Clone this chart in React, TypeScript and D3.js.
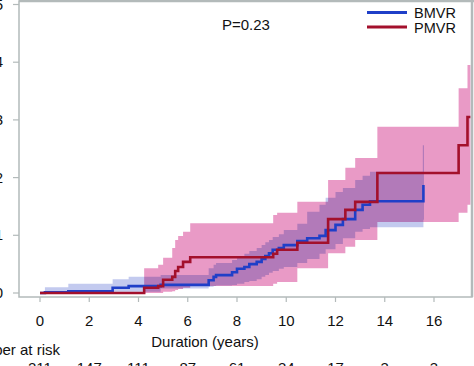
import * as d3 from "d3";

// Kaplan-Meier style cumulative incidence
const bmvrTime = [0, 0.2, 1.15, 2.95, 3.6, 4.9, 6.85, 7.05, 7.15, 7.8, 8.0, 8.3, 8.5, 8.8, 9.0, 9.15, 9.3, 9.45, 9.7, 9.9, 10.45, 10.85, 11.35, 11.6, 12.0, 12.3, 12.8, 13.1, 13.4, 15.57];
const bmvrEst = [0, 0.001, 0.003, 0.009, 0.012, 0.014, 0.022, 0.028, 0.031, 0.036, 0.042, 0.045, 0.05, 0.054, 0.059, 0.064, 0.069, 0.075, 0.078, 0.083, 0.09, 0.095, 0.099, 0.109, 0.118, 0.128, 0.144, 0.153, 0.159, 0.187];
const bmvrLower = [0, 0, 0, 0.002, 0.002, 0.008, 0.011, 0.012, 0.013, 0.014, 0.016, 0.019, 0.021, 0.024, 0.028, 0.031, 0.035, 0.038, 0.042, 0.045, 0.052, 0.059, 0.068, 0.076, 0.085, 0.095, 0.106, 0.111, 0.114, 0.127];
const bmvrUpper = [0, 0.01, 0.016, 0.024, 0.028, 0.031, 0.043, 0.049, 0.052, 0.057, 0.062, 0.068, 0.073, 0.078, 0.083, 0.088, 0.092, 0.097, 0.102, 0.109, 0.12, 0.141, 0.153, 0.165, 0.175, 0.182, 0.196, 0.203, 0.21, 0.256];

const pmvrTime = [0, 4.23, 4.8, 5.0, 5.37, 5.49, 5.61, 5.81, 6.1, 9.47, 9.63, 10.45, 11.7, 12.4, 12.8, 13.7, 17.0, 17.36, 17.48];
const pmvrEst = [0, 0.009, 0.012, 0.023, 0.028, 0.038, 0.045, 0.054, 0.062, 0.068, 0.075, 0.087, 0.128, 0.144, 0.158, 0.208, 0.256, 0.305, 0.305];
const pmvrLower = [0, 0, 0, 0.002, 0.003, 0.005, 0.007, 0.009, 0.012, 0.016, 0.019, 0.043, 0.069, 0.08, 0.092, 0.123, 0.139, 0.153, 0.153];
const pmvrUpper = [0, 0.043, 0.049, 0.061, 0.078, 0.092, 0.099, 0.106, 0.121, 0.135, 0.139, 0.158, 0.196, 0.217, 0.234, 0.288, 0.355, 0.395, 0.395];

const xTicks = [0, 2, 4, 6, 8, 10, 12, 14, 16];
const yTicks = [0, 0.1, 0.2, 0.3, 0.4, 0.5];
const atRisk = [211, 147, 111, 87, 61, 34, 17, 3, 3];
const seriesNames = ["BMVR", "PMVR"];
const pLabel = "P=0.23";

type Row = { t: number; est: number; lo: number; hi: number };

const rows = (t: number[], e: number[], lo: number[], hi: number[]): Row[] =>
  t.map((d, i) => ({ t: d, est: e[i], lo: lo[i], hi: hi[i] }));

const bmvr = rows(bmvrTime, bmvrEst, bmvrLower, bmvrUpper);
const pmvr = rows(pmvrTime, pmvrEst, pmvrLower, pmvrUpper);

const font = "'Liberation Sans', Arial, Helvetica, sans-serif";
const frame = "#b3baba";
const blueLine = "#1f3fc8";
const redLine = "#a3102c";
const blueBand = "#c3caef";
const pinkBand = "#e99ac6";

const App = () => {
  const width = 474;
  const height = 366;
  const left = 19;
  const right = 472;
  const top = 1;
  const bottom = 297;

  const x = d3.scaleLinear().domain([0, 16]).range([40, 434]);
  const y = d3.scaleLinear().domain([0, 0.5]).range([293, 4.5]);

  const band = d3
    .area<Row>()
    .x((d) => x(d.t))
    .y0((d) => y(d.lo))
    .y1((d) => y(d.hi))
    .curve(d3.curveStepAfter);

  const line = d3
    .line<Row>()
    .x((d) => x(d.t))
    .y((d) => y(d.est))
    .curve(d3.curveStepAfter);

  const lastB = bmvr[bmvr.length - 1];

  return (
    <svg
      width={width}
      height={height}
      style={{ position: "absolute", left: 0, top: 0, background: "#fff" }}
      fontFamily={font}
    >
      <g style={{ isolation: "isolate" }}>
        <path d={band(bmvr) ?? ""} fill={blueBand} />
        <line
          x1={x(lastB.t)}
          x2={x(lastB.t)}
          y1={y(lastB.lo)}
          y2={y(lastB.hi)}
          stroke={blueBand}
          strokeWidth={1.2}
        />
        <path
          d={band(pmvr) ?? ""}
          fill={pinkBand}
          style={{ mixBlendMode: "multiply" }}
        />
      </g>
      <path d={line(bmvr) ?? ""} fill="none" stroke={blueLine} strokeWidth={2.6} />
      <path d={line(pmvr) ?? ""} fill="none" stroke={redLine} strokeWidth={2.6} />

      {/* frame */}
      <rect
        x={left}
        y={top}
        width={right - left}
        height={bottom - top}
        fill="none"
        stroke={frame}
        strokeWidth={1.5}
      />
      <line x1={left} x2={right + 2} y1={top} y2={top} stroke={frame} strokeWidth={2.5} />
      <line x1={right} x2={right} y1={top} y2={bottom} stroke={frame} strokeWidth={2.5} />

      {yTicks.map((v) => (
        <g key={v}>
          <line x1={13} x2={left} y1={y(v)} y2={y(v)} stroke={frame} strokeWidth={1.2} />
          <text x={3} y={y(v) + 5} textAnchor="end" fontSize={15} fill="#111">
            {d3.format(".1f")(v)}
          </text>
        </g>
      ))}

      {xTicks.map((t) => (
        <g key={t}>
          <line x1={x(t)} x2={x(t)} y1={bottom} y2={bottom + 5} stroke={frame} strokeWidth={1.2} />
          <text x={x(t)} y={326} textAnchor="middle" fontSize={15} fill="#111">
            {t}
          </text>
        </g>
      ))}

      <text x={205} y={347} textAnchor="middle" fontSize={15} fill="#111">
        Duration (years)
      </text>
      <text x={60} y={355} textAnchor="end" fontSize={15} fill="#111">
        Number at risk
      </text>
      {atRisk.map((n, i) => (
        <text key={i} x={x(xTicks[i])} y={373} textAnchor="middle" fontSize={15} fill="#111">
          {n}
        </text>
      ))}

      <text x={222} y={30} fontSize={15} fill="#111">
        {pLabel}
      </text>

      {seriesNames.map((name, i) => (
        <g key={name}>
          <line
            x1={367}
            x2={407}
            y1={12.5 + i * 14.5}
            y2={12.5 + i * 14.5}
            stroke={i === 0 ? blueLine : redLine}
            strokeWidth={3}
          />
          <text x={414} y={18 + i * 14.5} fontSize={14.5} fill="#111">
            {name}
          </text>
        </g>
      ))}
    </svg>
  );
};

export default App;
